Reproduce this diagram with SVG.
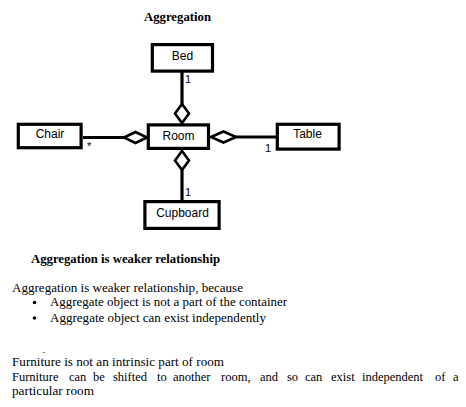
<svg xmlns="http://www.w3.org/2000/svg" width="466" height="407" viewBox="0 0 466 407">
<style>
.box{fill:#fff;stroke:#000;stroke-width:3.2}
.lbl{font-family:"Liberation Sans",Arial,sans-serif;font-size:12px;fill:#000;text-anchor:middle}
.mult{font-family:"Liberation Sans",Arial,sans-serif;font-size:11px;fill:#000}
.conn line{stroke:#000;stroke-width:3.2}
.conn polygon{fill:#fff;stroke:#000;stroke-width:2.6;stroke-linejoin:miter}
.t{font-family:"Liberation Serif","Times New Roman",serif;font-size:12.5px;fill:#000}
.b{font-weight:bold}
</style>
<rect width="466" height="407" fill="#fff"/>
<text class="t b" x="144" y="21" textLength="67" lengthAdjust="spacingAndGlyphs">Aggregation</text>
<g class="conn" id="connectors">
  <line x1="182" y1="72" x2="182" y2="104"/>
  <polygon points="182,104 189,113.5 182,123 175,113.5"/>
  <line x1="182" y1="170" x2="182" y2="201"/>
  <polygon points="182,151 189,160.5 182,170 175,160.5"/>
  <line x1="236" y1="137" x2="276" y2="137"/>
  <polygon points="211,137 223.5,131.5 236,137 223.5,142.5"/>
  <line x1="83" y1="137.5" x2="124" y2="137.5"/>
  <polygon points="124,137.5 135.5,132 147,137.5 135.5,143"/>
  <text class="mult" x="185" y="83">1</text>
  <text class="mult" x="185" y="196">1</text>
  <text class="mult" x="265" y="152">1</text>
  <text class="mult" x="87" y="150">*</text>
</g>
<g id="bed"><rect class="box" x="152.3" y="44.6" width="60.2" height="26.5"/><text class="lbl" x="182.5" y="60">Bed</text></g>
<g id="room"><rect class="box" x="148.3" y="124.9" width="60.2" height="23.5"/><text class="lbl" x="178.5" y="140">Room</text></g>
<g id="table"><rect class="box" x="277.3" y="124.3" width="61.8" height="24.8"/><text class="lbl" x="307.5" y="138">Table</text></g>
<g id="chair"><rect class="box" x="18.3" y="124.3" width="62.8" height="23.4"/><text class="lbl" x="50" y="138">Chair</text></g>
<g id="cupboard"><rect class="box" x="144.9" y="201.6" width="74.2" height="26.8"/><text class="lbl" x="182.5" y="217">Cupboard</text></g>
<text class="t b" x="31" y="263" textLength="189" lengthAdjust="spacingAndGlyphs">Aggregation is weaker relationship</text>
<text class="t" x="12" y="292" textLength="231" lengthAdjust="spacingAndGlyphs">Aggregation is weaker relationship, because</text>
<circle cx="34.5" cy="302.5" r="1.8" fill="#000"/>
<text class="t" x="50" y="306" textLength="237" lengthAdjust="spacingAndGlyphs">Aggregate object is not a part of the container</text>
<circle cx="34.5" cy="318" r="1.8" fill="#000"/>
<text class="t" x="50" y="321.5" textLength="216" lengthAdjust="spacingAndGlyphs">Aggregate object can exist independently</text>
<text class="t" x="42" y="354" style="font-size:7px" textLength="3.5" lengthAdjust="spacingAndGlyphs">-</text>
<text class="t" x="12" y="365.5" textLength="212" lengthAdjust="spacingAndGlyphs">Furniture is not an intrinsic part of room</text>
<text class="t" y="380.5"><tspan x="12">Furniture</tspan><tspan x="69">can</tspan><tspan x="93">be</tspan><tspan x="113">shifted</tspan><tspan x="157">to</tspan><tspan x="173">another</tspan><tspan x="221">room,</tspan><tspan x="260">and</tspan><tspan x="287">so</tspan><tspan x="305">can</tspan><tspan x="331">exist</tspan><tspan x="362">independent</tspan><tspan x="435">of</tspan><tspan x="453">a</tspan></text>
<text class="t" x="12" y="394.5" textLength="82" lengthAdjust="spacingAndGlyphs">particular room</text>
</svg>
